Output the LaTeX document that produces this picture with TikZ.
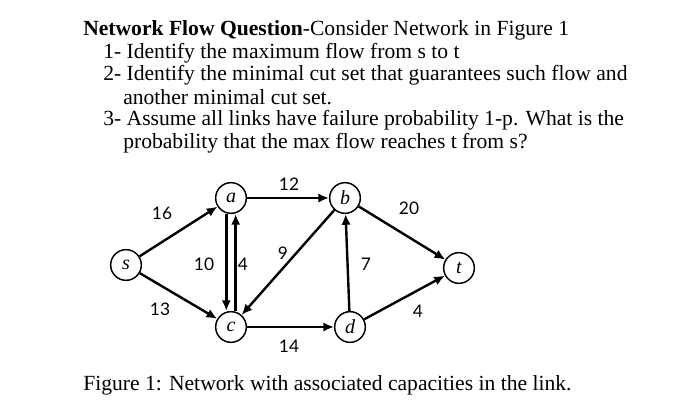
\documentclass[tikz,border=0pt]{standalone}
\usepackage{fontspec}
\setmainfont{Liberation Serif}
\newfontfamily\qfont{Liberation Serif}
\newfontfamily\capfont{Lato}
\usetikzlibrary{arrows.meta}
\begin{document}
\begin{tikzpicture}[x=0.75pt,y=-0.75pt,
  vertex/.style={draw,circle,line width=1.1pt,minimum size=23pt,inner sep=0pt,font=\qfont\fontsize{15}{15}\selectfont\itshape},
  edge/.style={-{Latex[length=8pt,width=7pt]},line width=1.8pt},
  capacity/.style={font=\capfont\fontsize{13}{13}\selectfont},
  textline/.style={anchor=west,font=\qfont\fontsize{16.2}{19}\selectfont,inner sep=0pt}]
\useasboundingbox (0,0) rectangle (700,413);
%text
\node[textline] (q0) at (83,30) {\textbf{Network Flow Question}-Consider Network in Figure 1};
\node[textline] (q1) at (103,53) {1- Identify the maximum flow from s to t};
\node[textline] (q2) at (103,75) {2- Identify the minimal cut set that guarantees such flow and};
\node[textline] (q2b) at (123,97) {another minimal cut set.};
\node[textline] (q3) at (103,120) {3- Assume all links have failure probability 1-p. What is the};
\node[textline] (q3b) at (123,143) {probability that the max flow reaches t from s?};
\node[textline] (fig) at (83,385) {Figure 1: Network with associated capacities in the link.};
%vertices
\node[vertex] (s) at (126,265) {s};
\node[vertex] (a) at (231,198) {a};
\node[vertex] (b) at (345,198) {b};
\node[vertex] (c) at (231,327) {c};
\node[vertex] (d) at (350,327) {d};
\node[vertex] (t) at (459,268) {t};
%edges
\draw[edge] (s) -- (a);
\draw[edge] (s) -- (c);
\draw[edge] (a) -- (b);
\draw[edge] (c) -- (d);
\draw[edge] (b) -- (t);
\draw[edge] (d) -- (t);
\draw[edge] (d) -- (b);
\draw[edge] (b) -- (c);
\draw[edge] ([xshift=-3.5pt]a.south) -- ([xshift=-3.5pt]c.north);
\draw[edge] ([xshift=3.5pt]c.north) -- ([xshift=3.5pt]a.south);
%capacities
\node[capacity] (l1) at (162,213) {16};
\node[capacity] (l2) at (160,309) {13};
\node[capacity] (l3) at (289,184) {12};
\node[capacity] (l4) at (289,346) {14};
\node[capacity] (l5) at (409,208) {20};
\node[capacity] (l6) at (418,311) {4};
\node[capacity] (l7) at (366,264) {7};
\node[capacity] (l8) at (283,253) {9};
\node[capacity] (l9) at (204,264) {10};
\node[capacity] (l10) at (243,264) {4};
\end{tikzpicture}
\end{document}
